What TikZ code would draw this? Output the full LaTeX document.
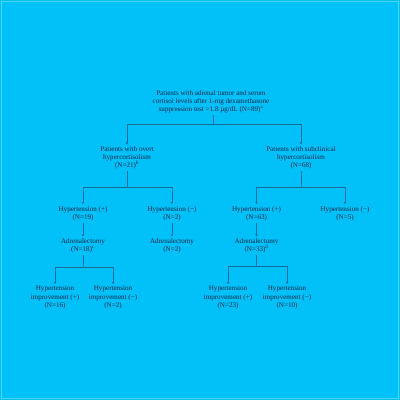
\documentclass[tikz,border=0pt]{standalone}
\usepackage{fontspec}
\setmainfont{Liberation Serif}
\usetikzlibrary{arrows.meta}
\definecolor{bgc}{RGB}{2,193,248}
\definecolor{edgec}{RGB}{70,216,255}
\definecolor{txtc}{RGB}{14,38,72}
\definecolor{lnc}{RGB}{18,108,158}
\tikzset{
  lbl/.style={font=\fontsize{7.1}{8.2}\selectfont, align=center, inner sep=1.8pt, text=txtc},
  ln/.style={draw=lnc, line width=0.8pt},
  arr/.style={ln, -{Stealth[length=2.6pt,width=2.4pt]}}
}
\begin{document}
\begin{tikzpicture}[x=1pt,y=-1pt]
\useasboundingbox (0,0) rectangle (400,400);
\fill[bgc] (0,0) rectangle (400,400);
\draw[edgec, line width=0.7pt] (1.2,1.2) rectangle (398.8,398.8);

\node[lbl] (top) at (211,101.5) {Patients with adrenal tumor and serum\\cortisol levels after 1-mg dexamethasone\\suppression test >1.8 \textmu g/dL (N=89)\textsuperscript{a}};
\node[lbl] (ov) at (127,158) {Patients with overt\\hypercortisolism\\(N=21)\textsuperscript{b}};
\node[lbl] (sub) at (301,158) {Patients with subclinical\\hypercortisolism\\(N=68)};
\node[lbl] (h1) at (83,213.5) {Hypertension (+)\\(N=19)};
\node[lbl] (h2) at (172,213.5) {Hypertension (−)\\(N=2)};
\node[lbl] (h3) at (256.5,213.5) {Hypertension (+)\\(N=63)};
\node[lbl] (h4) at (345,213.5) {Hypertension (−)\\(N=5)};
\node[lbl] (a1) at (83,246) {Adrenalectomy\\(N=18)\textsuperscript{c}};
\node[lbl] (a2) at (172,246) {Adrenalectomy\\(N=2)};
\node[lbl] (a3) at (256.5,246) {Adrenalectomy\\(N=33)\textsuperscript{d}};
\node[lbl] (i1) at (55,297.5) {Hypertension\\improvement (+)\\(N=16)};
\node[lbl] (i2) at (113,297.5) {Hypertension\\improvement (−)\\(N=2)};
\node[lbl] (i3) at (228,297.5) {Hypertension\\improvement (+)\\(N=23)};
\node[lbl] (i4) at (287,297.5) {Hypertension\\improvement (−)\\(N=10)};

\coordinate (j1) at (213,124);
\coordinate (j2) at (127,187);
\coordinate (j3) at (301,187);
\coordinate (j4) at (83,267);
\coordinate (j5) at (256.5,266.5);

\draw[ln] (top.south -| j1) -- (j1);
\draw[arr] (j1) -| (ov.north);
\draw[arr] (j1) -| (sub.north);
\draw[ln] (ov.south) -- (j2);
\draw[arr] (j2) -| (h1.north);
\draw[arr] (j2) -| (h2.north);
\draw[ln] (sub.south) -- (j3);
\draw[arr] (j3) -| (h3.north);
\draw[arr] (j3) -| (h4.north);
\draw[arr] (h1.south) -- (a1.north);
\draw[arr] (h2.south) -- (a2.north);
\draw[arr] (h3.south) -- (a3.north);
\draw[ln] (a1.south) -- (j4);
\draw[arr] (j4) -| (i1.north);
\draw[arr] (j4) -| (i2.north);
\draw[ln] (a3.south) -- (j5);
\draw[arr] (j5) -| (i3.north);
\draw[arr] (j5) -| (i4.north);
\end{tikzpicture}
\end{document}
